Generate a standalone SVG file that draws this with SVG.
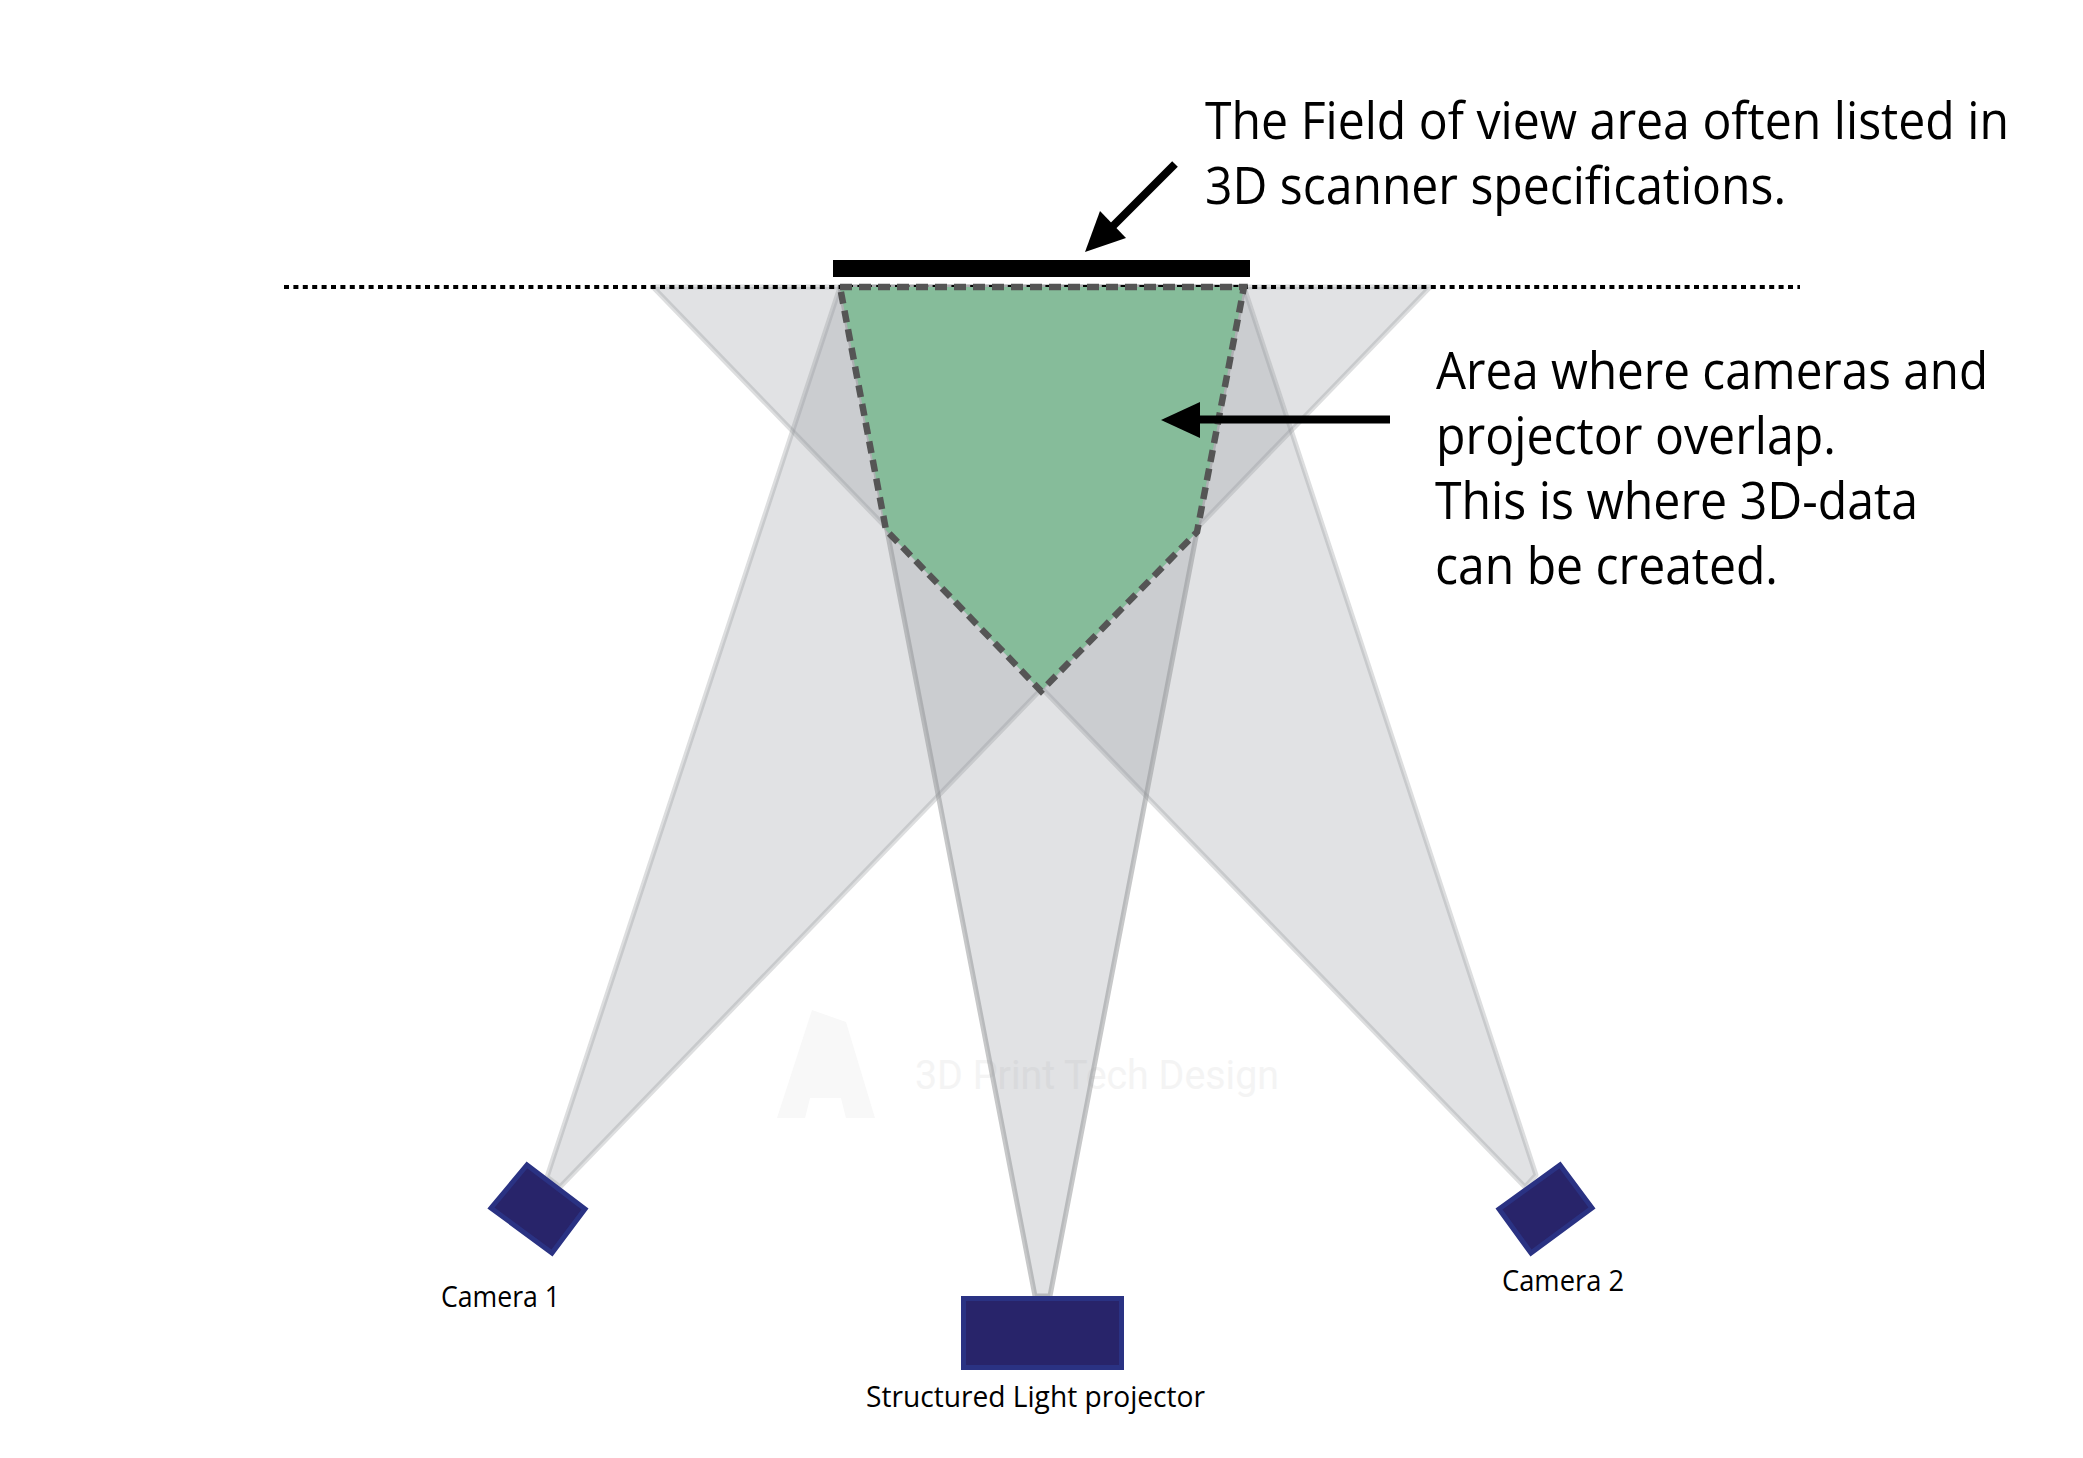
<svg xmlns="http://www.w3.org/2000/svg" width="2083" height="1458" viewBox="0 0 2083 1458">
<style>
.big{font-family:"Open Sans","Noto Sans",sans-serif;font-size:51px;fill:#000}
.small{font-family:"Open Sans","Noto Sans",sans-serif;font-size:30px;fill:#000}
.beam{fill:#8f959b;fill-opacity:.27;stroke:#8f9194;stroke-opacity:.3;stroke-width:5;stroke-linejoin:round}
.beam.proj{stroke-opacity:.5}
.dev{fill:#28246a;stroke:#2a3283;stroke-width:5;stroke-linejoin:miter}
</style>
<rect width="2083" height="1458" fill="#fff"/>
<g id="watermark">
<polygon points="812,1010 846,1022 875,1118 846,1118 841,1098 810,1098 805,1118 777,1118" fill="#f8f8f8"/>
<text x="915" y="1089" font-family="Roboto,sans-serif" font-size="40" fill="#f4f4f4" textLength="364" lengthAdjust="spacingAndGlyphs">3D Print Tech Design</text>
</g>
<g id="connectors">
<polygon class="beam" points="547,1177 560,1187 1430,287 840,287"/>
<polygon class="beam" points="1536,1175 1525,1187 653,287 1244,287"/>
<polygon class="beam proj" points="1035,1296 1050,1296 1244,287 840,287"/>
<line x1="284" y1="287" x2="1800" y2="287" stroke="#000" stroke-width="4" stroke-dasharray="5 4.400"/>
</g>
<g id="overlap">
<polygon points="840,287 1244,287 1197,532 1041,691 886,530" fill="#86bc9a" stroke="#555" stroke-width="6.500" stroke-dasharray="12 7"/>
</g>
<g id="fov-bar"><rect x="833" y="260" width="417" height="17" fill="#000"/></g>
<g id="arrow-fov">
<line x1="1175" y1="164" x2="1110" y2="229" stroke="#000" stroke-width="8"/>
<polygon points="1085,252 1100,211 1126,238" fill="#000"/>
</g>
<g id="arrow-overlap">
<line x1="1390" y1="419.500" x2="1198" y2="419.500" stroke="#000" stroke-width="8"/>
<polygon points="1161,420 1200,402 1200,438" fill="#000"/>
</g>
<g id="camera-1"><polygon class="dev" points="527,1165 585,1209 552,1253 491,1208"/><text class="small" x="441" y="1307" textLength="119" lengthAdjust="spacingAndGlyphs">Camera 1</text></g>
<g id="camera-2"><polygon class="dev" points="1560,1165 1592,1208 1531,1253 1499,1209"/><text class="small" x="1502" y="1291" textLength="122" lengthAdjust="spacingAndGlyphs">Camera 2</text></g>
<g id="projector"><rect class="dev" x="963.500" y="1298.500" width="158" height="69"/><text class="small" x="866" y="1407" textLength="339" lengthAdjust="spacingAndGlyphs">Structured Light projector</text></g>
<g id="label-fov">
<text class="big" x="1205" y="139" textLength="804" lengthAdjust="spacingAndGlyphs">The Field of view area often listed in</text>
<text class="big" x="1205" y="204" textLength="581" lengthAdjust="spacingAndGlyphs">3D scanner specifications.</text>
</g>
<g id="label-overlap">
<text class="big" x="1436" y="389" textLength="552" lengthAdjust="spacingAndGlyphs">Area where cameras and</text>
<text class="big" x="1436" y="454" textLength="400" lengthAdjust="spacingAndGlyphs">projector overlap.</text>
<text class="big" x="1435" y="519" textLength="483" lengthAdjust="spacingAndGlyphs">This is where 3D-data</text>
<text class="big" x="1435" y="584" textLength="343" lengthAdjust="spacingAndGlyphs">can be created.</text>
</g>
</svg>
